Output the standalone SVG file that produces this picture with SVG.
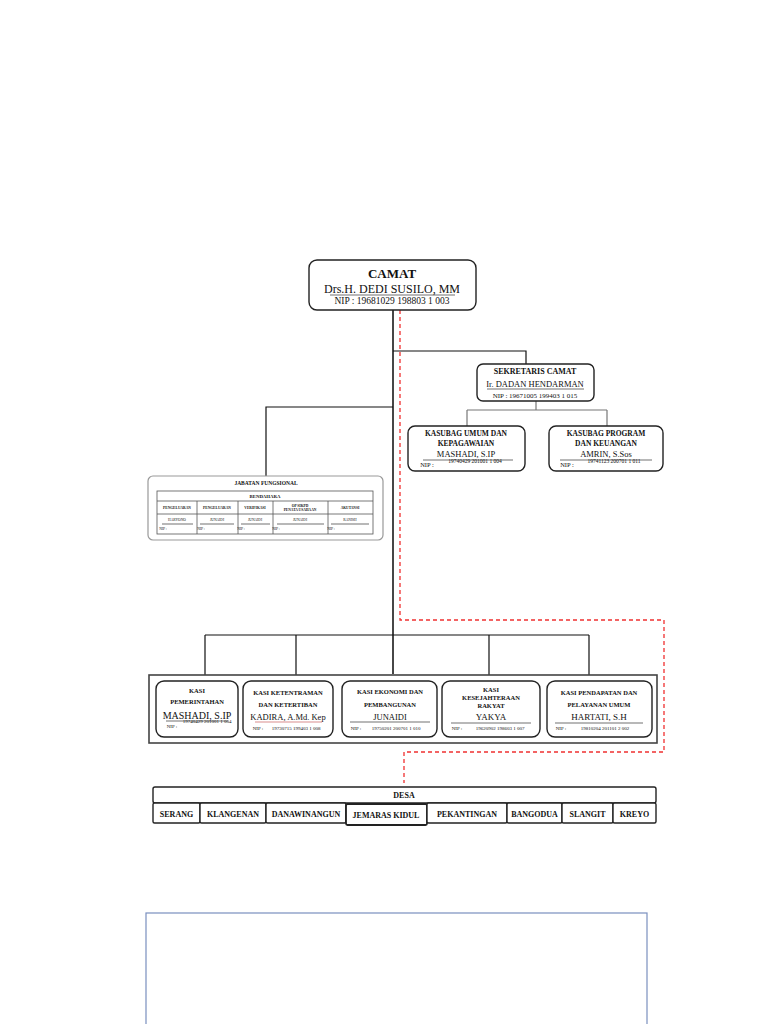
<svg xmlns="http://www.w3.org/2000/svg" width="768" height="1024" viewBox="0 0 768 1024">
<style>
text{font-family:"Liberation Serif","Times New Roman",serif;fill:#111;text-anchor:middle}
.b{font-weight:bold}
.box{fill:#fff;stroke:#222;stroke-width:1.4}
.ln{fill:none;stroke:#111;stroke-width:1.2}
.dash{fill:none;stroke:#f03030;stroke-width:1.3;stroke-dasharray:4 3}
.tb{fill:none;stroke:#555;stroke-width:0.8}
.u{stroke:#333;stroke-width:0.7}
</style>
<rect width="768" height="1024" fill="#fff"/>
<g id="connectors">
<path class="ln" d="M393 310V674" style="stroke:#333;stroke-width:1.8"/>
<path class="ln" d="M393 351H526V365"/>
<path class="ln" d="M536 401V410M467 410H607M467 410V427M607 410V427" style="stroke:#777"/>
<path class="ln" d="M393 407H266V476"/>
<path class="ln" d="M205 635H589M205 635V675M296 635V675M489 635V675M589 635V675"/>
<path class="dash" d="M400 310V620H664V752H404V783"/>
</g>
<g id="camat">
<rect class="box" x="309" y="260" width="167" height="50" rx="8"/>
<text class="b" x="392" y="278" font-size="13">CAMAT</text>
<text x="392" y="293" font-size="12">Drs.H. DEDI SUSILO, MM</text>
<line class="u" x1="330" y1="295" x2="455" y2="295"/>
<text x="392" y="304" font-size="9.5">NIP : 19681029 198803 1 003</text>
</g>
<g id="sekretaris">
<rect class="box" x="477" y="364" width="117" height="37" rx="6"/>
<text class="b" x="535" y="374" font-size="8">SEKRETARIS CAMAT</text>
<text x="535" y="387" font-size="8.5" fill="#333">Ir. DADAN HENDARMAN</text>
<line class="u" x1="487" y1="389" x2="584" y2="389"/>
<text x="535" y="398" font-size="7">NIP : 19671005 199403 1 015</text>
</g>
<g id="kasubag-umum">
<rect class="box" x="408" y="426" width="117" height="45" rx="7"/>
<text class="b" x="466" y="436" font-size="7.5">KASUBAG UMUM DAN</text>
<text class="b" x="466" y="446" font-size="7.5">KEPAGAWAIAN</text>
<text x="466" y="457" font-size="8.5">MASHADI, S.IP</text>
<line class="u" x1="423" y1="460" x2="513" y2="460"/>
<text x="475" y="463" font-size="5.5">19740429 201001 1 004</text>
<text x="427" y="467" font-size="6.5">NIP :</text>
</g>
<g id="kasubag-program">
<rect class="box" x="549" y="426" width="114" height="45" rx="7"/>
<text class="b" x="606" y="436" font-size="7.5">KASUBAG PROGRAM</text>
<text class="b" x="606" y="446" font-size="7.5">DAN KEUANGAN</text>
<text x="606" y="457" font-size="8.5">AMRIN, S.Sos</text>
<line class="u" x1="560" y1="460" x2="652" y2="460"/>
<text x="614" y="463" font-size="5.5">19741123 200701 1 011</text>
<text x="567" y="467" font-size="6.5">NIP :</text>
</g>
<g id="jabatan-fungsional">
<rect x="148" y="476" width="235" height="64" rx="5" fill="#fff" stroke="#999" stroke-width="1.2"/>
<text class="b" x="266" y="485" font-size="5.5">JABATAN FUNGSIONAL</text>
<rect class="tb" x="157" y="491" width="216" height="43"/>
<line class="tb" x1="157" y1="501" x2="373" y2="501"/>
<line class="tb" x1="157" y1="514" x2="373" y2="514"/>
<path class="tb" d="M197 501V534M238 501V534M273 501V534M328 501V534"/>
<text class="b" x="265" y="498" font-size="4.8">BENDAHARA</text>
<g font-size="3.6">
<text class="b" x="177" y="509">PENGELUARAN</text>
<text class="b" x="217" y="509">PENGELUARAN</text>
<text class="b" x="255" y="509">VERIFIKASI</text>
<text class="b" x="300" y="506.5">OP SIKPD</text>
<text class="b" x="300" y="510.5">PENATA USAHAAN</text>
<text class="b" x="350" y="509">AKUTANSI</text>
<text x="177" y="521">HARYONO</text>
<text x="217" y="521">JUNAIDI</text>
<text x="255" y="521">JUNAIDI</text>
<text x="300" y="521">JUNAIDI</text>
<text x="350" y="521">RANISH</text>
<text x="163" y="530" text-anchor="start">NIP :</text>
<text x="201" y="530" text-anchor="start">NIP :</text>
<text x="241" y="530" text-anchor="start">NIP :</text>
<text x="276" y="530" text-anchor="start">NIP :</text>
<text x="331" y="530" text-anchor="start">NIP :</text>
</g>
<path class="u" d="M162 524H193M200 524H234M241 524H270M277 524H324M331 524H369" stroke-width="0.4"/>
</g>
<g id="kasi-group">
<rect x="149" y="675" width="508" height="68" fill="#fff" stroke="#444" stroke-width="1.6"/>
</g>
<g id="kasi-pemerintahan">
<rect class="box" x="156" y="681" width="82" height="56" rx="8"/>
<text class="b" x="197" y="693" font-size="6.5">KASI</text>
<text class="b" x="197" y="704" font-size="6.5">PEMERINTAHAN</text>
<text x="197" y="719" font-size="10">MASHADI, S.IP</text>
<line class="u" x1="166" y1="721" x2="228" y2="721"/>
<text x="207" y="723" font-size="5">19740429 201001 1 004</text>
<text x="172" y="728" font-size="5">NIP :</text>
</g>
<g id="kasi-ketentraman">
<rect class="box" x="243" y="681" width="90" height="56" rx="8"/>
<text class="b" x="288" y="695" font-size="6.5">KASI KETENTRAMAN</text>
<text class="b" x="288" y="707" font-size="6.5">DAN KETERTIBAN</text>
<text x="288" y="720" font-size="8.5" fill="#333">KADIRA, A.Md. Kep</text>
<line x1="255" y1="722" x2="322" y2="722" stroke="#c04040" stroke-width="0.6"/>
<text x="258" y="730" font-size="5">NIP :</text>
<text x="296" y="730" font-size="5">19730715 199403 1 008</text>
</g>
<g id="kasi-ekonomi">
<rect class="box" x="342" y="681" width="95" height="56" rx="8"/>
<text class="b" x="390" y="694" font-size="6.5">KASI EKONOMI DAN</text>
<text class="b" x="390" y="707" font-size="6.5">PEMBANGUNAN</text>
<text x="390" y="720" font-size="8.5" fill="#333">JUNAIDI</text>
<line class="u" x1="350" y1="722" x2="430" y2="722" stroke-width="0.5"/>
<text x="356" y="730" font-size="5">NIP :</text>
<text x="396" y="730" font-size="5">19750201 200701 1 010</text>
</g>
<g id="kasi-kesejahteraan">
<rect class="box" x="442" y="681" width="98" height="56" rx="8"/>
<text class="b" x="491" y="692" font-size="6.5">KASI</text>
<text class="b" x="491" y="700" font-size="6.5">KESEJAHTERAAN</text>
<text class="b" x="491" y="708" font-size="6.5">RAKYAT</text>
<text x="491" y="720" font-size="9" fill="#333">YAKYA</text>
<line class="u" x1="451" y1="723" x2="531" y2="723" stroke-width="0.5"/>
<text x="457" y="730" font-size="5">NIP :</text>
<text x="500" y="730" font-size="5">19620902 198603 1 007</text>
</g>
<g id="kasi-pendapatan">
<rect class="box" x="547" y="681" width="105" height="56" rx="8"/>
<text class="b" x="599" y="695" font-size="6.5">KASI PENDAPATAN DAN</text>
<text class="b" x="599" y="707" font-size="6.5">PELAYANAN UMUM</text>
<text x="599" y="720" font-size="9" fill="#333">HARTATI, S.H</text>
<line class="u" x1="555" y1="723" x2="643" y2="723" stroke-width="0.5"/>
<text x="561" y="730" font-size="5">NIP :</text>
<text x="605" y="730" font-size="5">19810204 201101 2 002</text>
</g>
<g id="desa">
<rect class="box" x="153" y="787" width="503" height="16" rx="2"/>
<text class="b" x="404" y="798" font-size="8">DESA</text>
</g>
<g id="villages" font-size="8">
<rect class="box" x="153" y="803" width="47" height="20" rx="1.5"/>
<text class="b" x="176.5" y="817" font-size="8">SERANG</text>
<rect class="box" x="200" y="803" width="66" height="20" rx="1.5"/>
<text class="b" x="233" y="817" font-size="8">KLANGENAN</text>
<rect class="box" x="266" y="803" width="80" height="20" rx="1.5"/>
<text class="b" x="306" y="817" font-size="8">DANAWINANGUN</text>
<rect class="box" x="346" y="804" width="81" height="21" rx="1.5" style="stroke-width:1.8"/>
<text class="b" x="386" y="818" font-size="8">JEMARAS  KIDUL</text>
<rect class="box" x="427" y="803" width="80" height="20" rx="1.5"/>
<text class="b" x="467" y="817" font-size="8">PEKANTINGAN</text>
<rect class="box" x="507" y="803" width="55" height="20" rx="1.5"/>
<text class="b" x="534.5" y="817" font-size="8">BANGODUA</text>
<rect class="box" x="562" y="803" width="51" height="20" rx="1.5"/>
<text class="b" x="587.5" y="817" font-size="8">SLANGIT</text>
<rect class="box" x="613" y="803" width="43" height="20" rx="1.5"/>
<text class="b" x="634.5" y="817" font-size="8">KREYO</text>
</g>
<rect x="146" y="913" width="501" height="120" fill="none" stroke="#7a8fbf" stroke-width="1.2"/>
</svg>
